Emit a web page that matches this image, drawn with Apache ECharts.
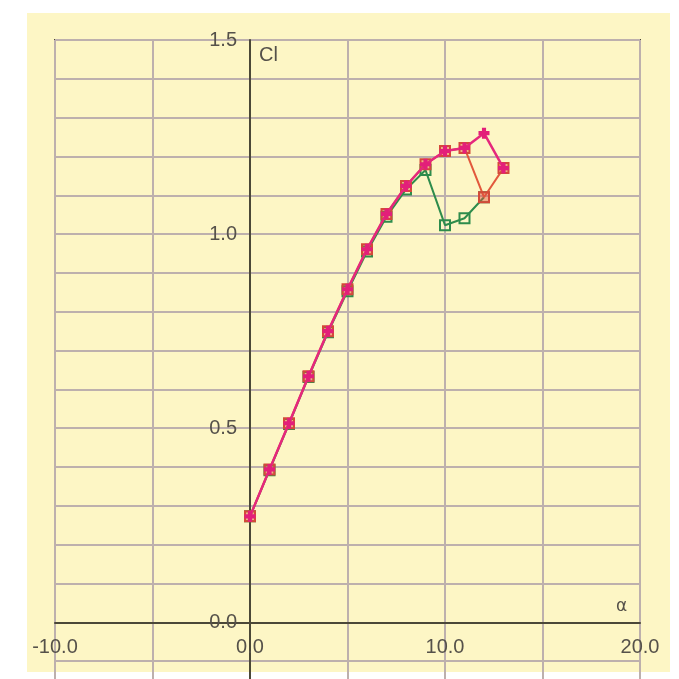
<!DOCTYPE html>
<html>
<head>
<meta charset="utf-8">
<script src="https://cdn.jsdelivr.net/npm/echarts@6/dist/echarts.min.js"></script>
<style>
    html, body { margin: 0; padding: 0; background: #fff; }
    #chart { width: 679px; height: 679px; }
</style>
</head>
<body>
<div id="chart"></div>
<script>
    // angle of attack, degrees
    var alpha = [0, 1, 2, 3, 4, 5, 6, 7, 8, 9, 10, 11, 12, 13];
    // lift coefficient, three runs
    var clGreen = [0.273, 0.392, 0.511, 0.632, 0.747, 0.853, 0.955, 1.045, 1.115, 1.165, 1.023, 1.041, 1.095];
    var clRed = [0.273, 0.394, 0.513, 0.634, 0.750, 0.858, 0.961, 1.052, 1.124, 1.180, 1.214, 1.222, 1.095, 1.170];
    var clPink = [0.273, 0.394, 0.513, 0.634, 0.750, 0.858, 0.961, 1.052, 1.124, 1.180, 1.214, 1.222, 1.260, 1.170];
    var xLabels = [-10, 0, 10, 20];
    var yLabels = [0, 0.5, 1.0, 1.5];

    function pairs(ys) {
        return ys.map(function (y, i) { return [alpha[i], y]; });
    }
    function near(list, v) {
        return list.some(function (t) { return Math.abs(t - v) < 1e-6; });
    }

    var gridColor = '#bdb0ad';
    var axisColor = '#4b4838';
    var textColor = '#55514a';
    var plus = 'path://M2.5,0H5.5V2.5H8V5.5H5.5V8H2.5V5.5H0V2.5H2.5Z';

    // plot box: x -10..20 over 585px, y -0.2..1.5 over 660px
    var gridLeft = 55, gridTop = 40, gridW = 585, gridH = 660;
    var xMin = -10, xMax = 20, yMin = -0.2, yMax = 1.5;

    var chart = echarts.init(document.getElementById('chart'));
    chart.setOption({
        animation: false,
        graphic: [
            {
                type: 'rect', z: -10, silent: true,
                shape: { x: 27, y: 13, width: 643, height: 659 },
                style: { fill: '#fdf6c5' }
            },
            {
                type: 'text', left: 259, top: 45, z: 10,
                style: { text: 'Cl', fontSize: 20, fill: textColor, fontFamily: 'Liberation Sans' }
            },
            {
                type: 'text', left: 616, top: 598, z: 10,
                style: { text: 'α', fontSize: 17, fill: textColor, fontFamily: 'DejaVu Sans' }
            }
        ],
        grid: {
            left: gridLeft,
            top: gridTop,
            width: gridW,
            height: gridH,
            outerBoundsMode: 'none',
            containLabel: false,
            show: true,
            borderColor: axisColor,
            borderWidth: 2,
            backgroundColor: 'transparent'
        },
        xAxis: {
            type: 'value',
            min: xMin,
            max: xMax,
            interval: 5,
            position: 'bottom',
            offset: -gridH * (0 - yMin) / (yMax - yMin),
            axisLine: { onZero: false, lineStyle: { color: axisColor, width: 2 } },
            axisTick: { show: false },
            splitLine: { show: true, lineStyle: { color: gridColor, width: 2 } },
            axisLabel: {
                margin: 15,
                fontSize: 20,
                color: textColor,
                fontFamily: 'Liberation Sans',
                formatter: function (v) { return near(xLabels, v) ? v.toFixed(1) : ''; }
            }
        },
        yAxis: {
            type: 'value',
            min: yMin,
            max: yMax,
            interval: 0.1,
            position: 'left',
            offset: -gridW * (0 - xMin) / (xMax - xMin),
            axisLine: { onZero: false, lineStyle: { color: axisColor, width: 2 } },
            axisTick: { show: false },
            splitLine: { show: true, lineStyle: { color: gridColor, width: 2 } },
            axisLabel: {
                margin: 13,
                fontSize: 20,
                color: textColor,
                fontFamily: 'Liberation Sans',
                showMaxLabel: true,
                formatter: function (v) { return near(yLabels, v) ? v.toFixed(1) : ''; }
            }
        },
        series: [
            {
                type: 'line',
                data: pairs(clGreen),
                symbol: 'rect',
                symbolSize: 10,
                lineStyle: { color: '#2e8c4c', width: 2 },
                itemStyle: { color: 'rgba(0,0,0,0)', borderColor: '#2e8c4c', borderWidth: 2 },
                z: 2
            },
            {
                type: 'line',
                data: pairs(clRed),
                symbol: 'rect',
                symbolSize: 10,
                lineStyle: { color: '#e2583c', width: 2 },
                itemStyle: { color: 'rgba(226,80,60,0.45)', borderColor: '#d44a38', borderWidth: 2 },
                z: 3
            },
            {
                type: 'line',
                data: pairs(clPink),
                symbol: plus,
                symbolSize: 11,
                lineStyle: { color: '#e5287c', width: 2.5 },
                itemStyle: { color: '#e31f79' },
                z: 4
            }
        ]
    });
</script>
</body>
</html>
